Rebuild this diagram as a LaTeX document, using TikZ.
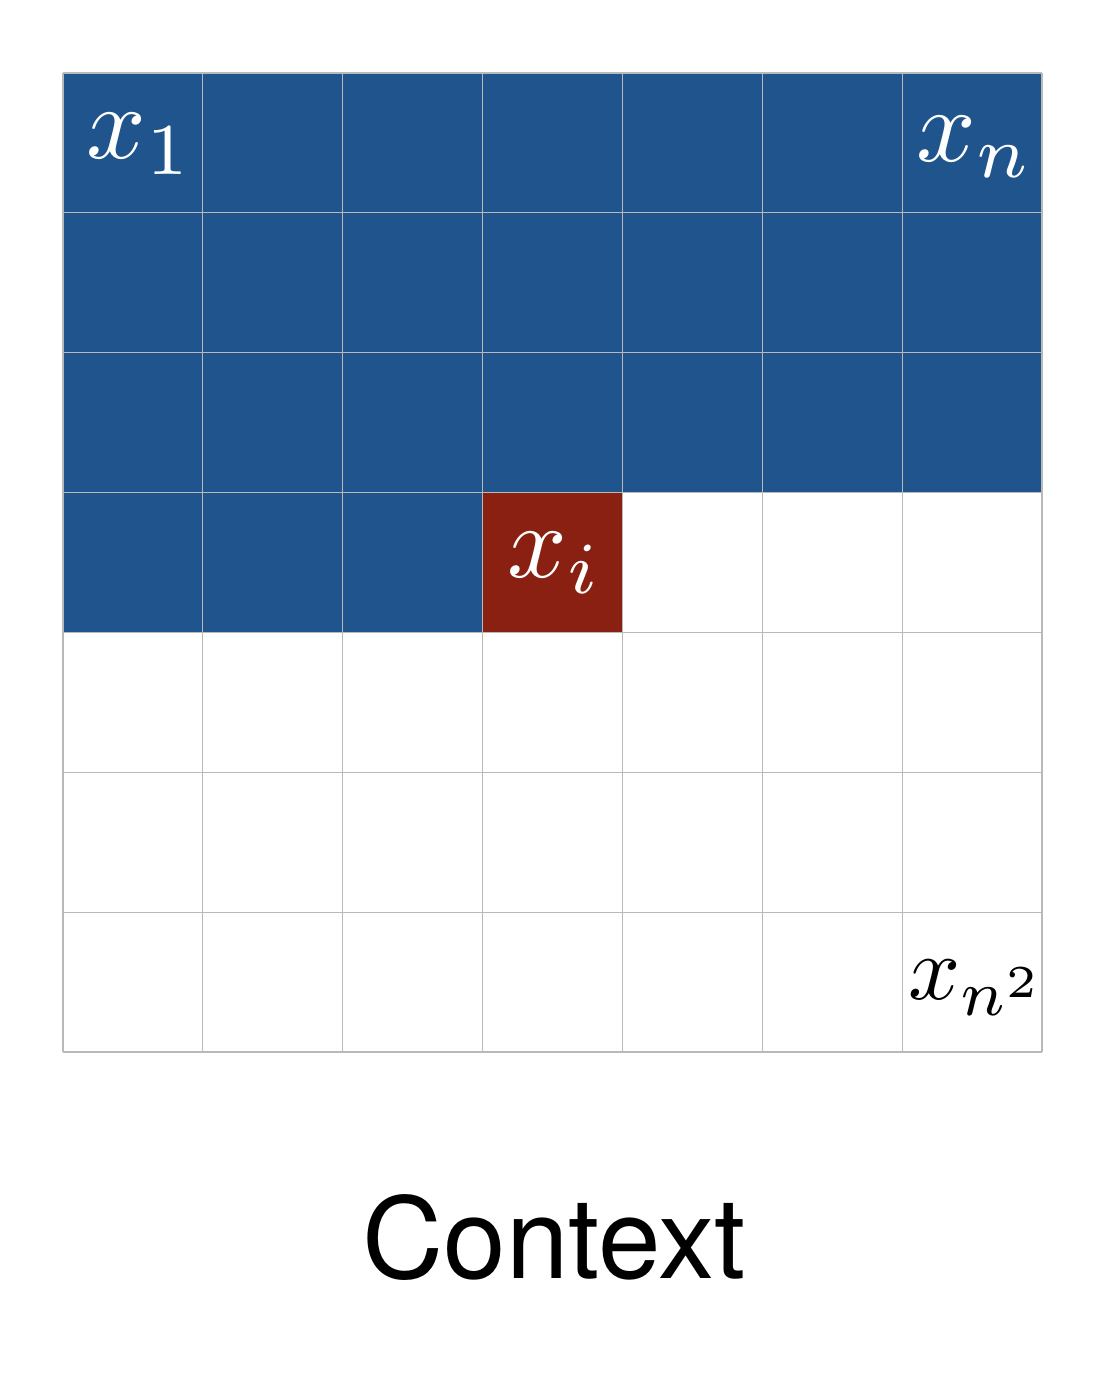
\documentclass[tikz,border=0pt]{standalone}
\usepackage{fontspec}
\newfontfamily\heros{TeX Gyre Heros}
\definecolor{cellblue}{RGB}{31,84,140}
\definecolor{cellred}{RGB}{137,32,18}
\definecolor{gridgray}{RGB}{185,185,185}
\newcommand{\biglab}[1]{\scalebox{5.95}{$#1$}}
\newcommand{\smalllab}[1]{\scalebox{5.2}{$#1$}}
\begin{document}
\begin{tikzpicture}[x=0.02cm,y=-0.02cm,
  gridline/.style={draw=gridgray,line width=0.7pt},
  biglabel/.style={text=white,inner sep=0pt},
  smalllabel/.style={text=black,inner sep=0pt},
  caption/.style={font=\heros\fontsize{64}{70}\selectfont,inner sep=0pt}]
\useasboundingbox (0,0) rectangle (1116,1390);
\def\cs{139.857}
% blue region
\fill[cellblue] (63,73) rectangle (1042,{73+3*\cs});
\fill[cellblue] (63,{73+3*\cs}) rectangle ({63+3*\cs},{73+4*\cs});
\fill[cellred] ({63+3*\cs},{73+3*\cs}) rectangle ({63+4*\cs},{73+4*\cs});
% grid
\foreach \i in {0,...,7} {
  \draw[gridline] ({63+\i*\cs},73) -- ({63+\i*\cs},1052);
  \draw[gridline] (63,{73+\i*\cs}) -- (1042,{73+\i*\cs});
}
% labels
\node[biglabel] (x1) at (140,144) {\biglab{x_1}};
\node[biglabel] (xn) at (975,147) {\biglab{x_n}};
\node[biglabel] (xi) at (555,563) {\biglab{x_i}};
\node[smalllabel] (xn2) at (977,988) {\smalllab{x_{n^2}}};
\node[caption] (ctx) at (554,1237) {Context};
\end{tikzpicture}
\end{document}
